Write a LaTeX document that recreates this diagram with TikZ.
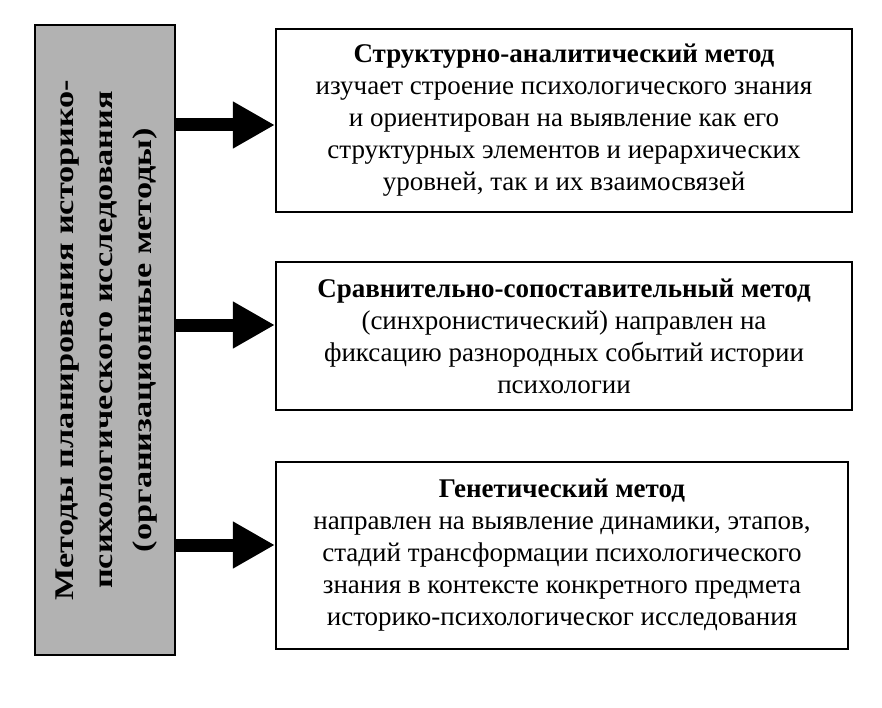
\documentclass[tikz,border=0pt]{standalone}
\usepackage{fontspec}
\setmainfont{Liberation Serif}
\usetikzlibrary{arrows.meta}
\begin{document}
\begin{tikzpicture}[x=1pt,y=-1pt,
  box/.style={draw,line width=2.2pt,fill=white,align=center,font=\fontsize{27}{32}\selectfont,inner sep=0pt},
  arr/.style={line width=13pt,-{Triangle[length=42pt,width=44pt]}}]
\useasboundingbox (0,0) rectangle (882,708);
\node[draw,line width=2.2pt,fill=black!30,minimum width=140pt,minimum height=630pt,inner sep=0pt] (L) at (105,340) {};
\node[rotate=90,inner sep=0pt] (LT) at (L.center) {\scalebox{1.27}[1]{\fontsize{27}{39}\selectfont\bfseries\begin{tabular}{@{}c@{}}Методы планирования историко-\\психологического исследования\\(организационные методы)\end{tabular}}};
\node[box,minimum width=576pt,minimum height=183pt] (B1) at (564,120.5) {\textbf{Структурно-аналитический метод}\\изучает строение психологического знания\\и ориентирован на выявление как его\\структурных элементов и иерархических\\уровней, так и их взаимосвязей};
\node[box,minimum width=576pt,minimum height=148pt] (B2) at (564,336) {\textbf{Сравнительно-сопоставительный метод}\\(синхронистический) направлен на\\фиксацию разнородных событий истории\\психологии};
\node[box,minimum width=572pt,minimum height=187pt] (B3) at (562,555.5) {\textbf{Генетический метод}\\направлен на выявление динамики, этапов,\\стадий трансформации психологического\\знания в контексте конкретного предмета\\историко-психологическог исследования};
\coordinate (a1) at (175,125); \coordinate (a2) at (175,325); \coordinate (a3) at (175,545);
\draw[arr] (a1) -- (a1 -| B1.west);
\draw[arr] (a2) -- (a2 -| B2.west);
\draw[arr] (a3) -- (a3 -| B3.west);
\end{tikzpicture}
\end{document}
